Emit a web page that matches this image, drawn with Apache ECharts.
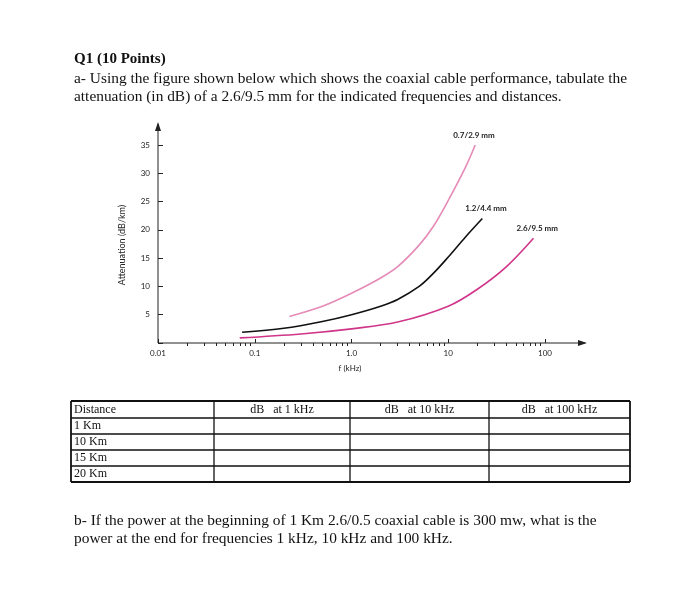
<!DOCTYPE html>
<html><head><meta charset="utf-8">
<script src="https://cdn.jsdelivr.net/npm/echarts@6/dist/echarts.min.js"></script>
<style>html,body{margin:0;background:#fff}#c{width:700px;height:601px}</style>
</head><body><div id="c"></div>
<script>
var chart = echarts.init(document.getElementById('c'));

// curves: [f (kHz), attenuation dB/km]
var cable07 = [[0.228,4.7],[0.5,6.5],[1,8.8],[2,11.5],[3,13.5],[5,17.3],[7,20.6],[10,25.2],[15,31],[19,35]];
var cable12 = [[0.074,1.9],[0.2,2.6],[0.5,3.8],[1,5],[2,6.5],[3,7.7],[5,10],[7,12.3],[10,15.2],[15,18.7],[22.5,22]];
var cable26 = [[0.07,0.9],[0.3,1.6],[1,2.5],[3,3.7],[10,6.5],[20,9.5],[40,13.5],[76,18.5]];
var xTickLabels = {0.01:'0.01', 0.1:'0.1', 1:'1.0', 10:'10', 100:'100'};

var tableHead = ['Distance', 'dB   at 1 kHz', 'dB   at 10 kHz', 'dB   at 100 kHz'];
var tableRows = ['1 Km', '10 Km', '15 Km', '20 Km'];

var serif = '"Liberation Serif", serif';
var sans = 'Lato, "Open Sans", sans-serif';

function curve(name, data, color, offset) {
  return {type: 'line', name: name, data: data, smooth: 0.35, showSymbol: false, symbol: 'none',
    lineStyle: {color: color, width: 1.6}, z: 3,
    endLabel: {show: true, formatter: name, offset: offset, color: '#222', fontSize: 8,
      fontFamily: sans, fontWeight: 'bold'}};
}

var cols = [71, 214, 350, 489, 630];
var rowY = [401, 418, 434, 450, 466, 482];
var g = [
  {type: 'text', left: 74, top: 52, style: {text: 'Q1 (10 Points)', font: 'bold 15px ' + serif, fill: '#111'}},
  {type: 'text', left: 74, top: 71, style: {text: 'a- Using the figure shown below which shows the coaxial cable performance, tabulate the', font: '15.4px ' + serif, fill: '#111'}},
  {type: 'text', left: 74, top: 89, style: {text: 'attenuation (in dB) of a 2.6/9.5 mm for the indicated frequencies and distances.', font: '15.4px ' + serif, fill: '#111'}},
  {type: 'text', left: 74, top: 513, style: {text: 'b- If the power at the beginning of 1 Km 2.6/0.5 coaxial cable is 300 mw, what is the', font: '15.4px ' + serif, fill: '#111'}},
  {type: 'text', left: 74, top: 531, style: {text: 'power at the end for frequencies 1 kHz, 10 kHz and 100 kHz.', font: '15.4px ' + serif, fill: '#111'}},
  {type: 'text', x: 122, y: 245, rotation: Math.PI / 2, style: {text: 'Attenuation (dB/km)', font: '9px ' + sans, fill: '#222', align: 'center', verticalAlign: 'middle'}},
  {type: 'text', x: 350, y: 364, style: {text: 'f (kHz)', font: '8px ' + sans, fill: '#222', align: 'center'}},
  // axis arrows
  {type: 'polyline', shape: {points: [[158, 343], [158, 124]]}, style: {stroke: '#222', lineWidth: 1}},
  {type: 'polygon', shape: {points: [[155, 131], [158, 122], [161, 131]]}, style: {fill: '#222'}},
  {type: 'polyline', shape: {points: [[158, 343], [585, 343]]}, style: {stroke: '#222', lineWidth: 1}},
  {type: 'polygon', shape: {points: [[578, 340], [587, 343], [578, 346]]}, style: {fill: '#222'}}
];
// table
cols.forEach(function (x, i) {
  g.push({type: 'line', shape: {x1: x, y1: rowY[0], x2: x, y2: rowY[5]}, style: {stroke: '#111', lineWidth: (i === 0 || i === 4) ? 1.8 : 1.3}});
});
rowY.forEach(function (y, i) {
  g.push({type: 'line', shape: {x1: cols[0], y1: y, x2: cols[4], y2: y}, style: {stroke: '#111', lineWidth: (i === 0 || i === 5) ? 1.8 : 1.3}});
});
tableHead.forEach(function (t, i) {
  var cx = i === 0 ? cols[0] + 3 : (cols[i] + cols[i + 1]) / 2;
  g.push({type: 'text', x: cx, y: 410, style: {text: t, font: '12px ' + serif, fill: '#111', align: i === 0 ? 'left' : 'center', verticalAlign: 'middle'}});
});
tableRows.forEach(function (t, i) {
  g.push({type: 'text', x: cols[0] + 3, y: (rowY[i + 1] + rowY[i + 2]) / 2, style: {text: t, font: '12px ' + serif, fill: '#111', verticalAlign: 'middle'}});
});

chart.setOption({
  animation: false,
  backgroundColor: '#fff',
  grid: {left: 158, top: 145, width: 387, height: 198, containLabel: false},
  xAxis: {
    type: 'log', logBase: 10, min: 0.01, max: 100,
    axisLine: {show: false},
    axisTick: {show: true, inside: true, length: 4, lineStyle: {color: '#222'}},
    minorTick: {show: true, splitNumber: 9, length: -3, lineStyle: {color: '#222'}},
    splitLine: {show: false},
    axisLabel: {fontSize: 8, fontFamily: sans, color: '#222', margin: 6,
      formatter: function (v) { return xTickLabels[v] || xTickLabels[+v.toPrecision(3)] || ''; }}
  },
  yAxis: {
    type: 'value', min: 0, max: 35, interval: 5,
    axisLine: {show: false},
    axisTick: {show: true, inside: true, length: 5, lineStyle: {color: '#222'}},
    splitLine: {show: false},
    axisLabel: {fontSize: 8, fontFamily: sans, color: '#222', margin: 8,
      formatter: function (v) { return v === 0 ? '' : v; }}
  },
  series: [
    curve('0.7/2.9 mm', cable07, '#e58bb8', [-30, -10]),
    curve('1.2/4.4 mm', cable12, '#111111', [-25, -10]),
    curve('2.6/9.5 mm', cable26, '#d0358a', [-25, -10])
  ],
  graphic: g
});
</script></body></html>
